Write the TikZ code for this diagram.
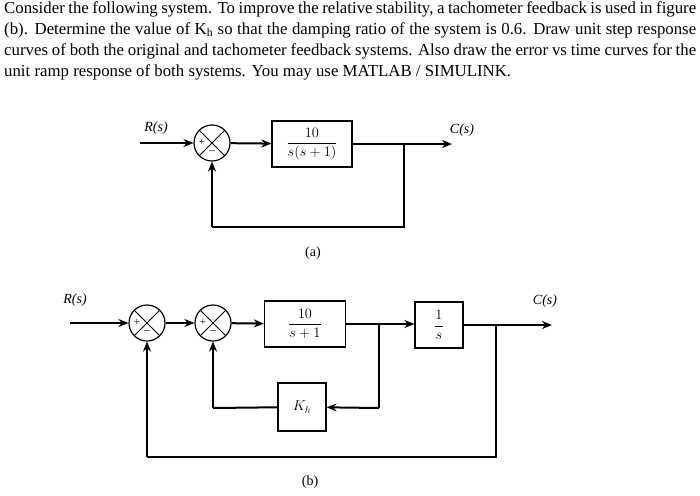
\documentclass[tikz,border=0pt]{standalone}
\usepackage{fontspec}
\setmainfont{Liberation Serif}
\usetikzlibrary{arrows.meta,calc}
\begin{document}
\begin{tikzpicture}[x=1pt,y=-1pt,
  sum/.style={circle,draw,line width=1.2pt,minimum size=36pt,inner sep=0pt},
  blk/.style={draw,line width=1.2pt,rectangle,inner sep=0pt},
  ln/.style={line width=2pt},
  arr/.style={line width=2pt,-{Stealth[length=10pt,width=8pt]}},
  lbl/.style={font=\itshape\fontsize{14}{14}\selectfont},
  ft/.style={font=\fontsize{14}{14}\selectfont}]
\useasboundingbox (0,0) rectangle (700,495);
\node[anchor=north west,text width=692pt,align=justify,inner sep=0pt,font=\fontsize{16.8}{21}\selectfont] (txt) at (4,1)
{Consider the following system. To improve the relative stability, a tachometer feedback is used in figure (b). Determine the value of K\textsubscript{h} so that the damping ratio of the system is 0.6. Draw unit step response curves of both the original and tachometer feedback systems. Also draw the error vs time curves for the unit ramp response of both systems. You may use MATLAB / SIMULINK.};
\newcommand{\sumsym}[1]{%
  \draw[line width=1pt] ($(#1)+(-12.7,-12.7)$) -- ($(#1)+(12.7,12.7)$);
  \draw[line width=1pt] ($(#1)+(-12.7,12.7)$) -- ($(#1)+(12.7,-12.7)$);
  \node[font=\fontsize{11}{11}\selectfont,inner sep=0pt] at ($(#1)+(-10,-1)$) {+};
  \node[font=\fontsize{11}{11}\selectfont,inner sep=0pt] at ($(#1)+(0,9)$) {--};}
% (a)
\node[sum] (s1) at (212,143) {};
\node[blk,minimum width=80pt,minimum height=46pt] (g1) at (312,144) {};
\node[ft] (g1t) at (312,144) {$\displaystyle\frac{10}{s(s+1)}$};
\coordinate (in1) at (140,143);
\coordinate (out1) at (452,144);
\coordinate (j1) at (404,144);
\coordinate (fb1) at (404,227);
\coordinate (fb1b) at (212,227);
\node[lbl] (R1) at (156,128) {R(s)};
\node[lbl] (C1) at (462,130) {C(s)};
\draw[arr] (in1) -- (s1);
\draw[arr] (s1) -- (g1);
\draw[arr] (g1) -- (out1);
\draw[ln] (j1) -- (fb1) -- (fb1b);
\draw[arr] (fb1b) -- (s1);
\node[ft] (la) at (313,253) {(a)};
% (b)
\node[sum] (s2) at (147,323) {};
\node[sum] (s3) at (213,323) {};
\node[blk,minimum width=81pt,minimum height=46pt] (g2) at (305,324) {};
\node[ft] (g2t) at (305,324) {$\displaystyle\frac{10}{s+1}$};
\node[blk,minimum width=48pt,minimum height=46pt] (g3) at (439,325) {};
\node[ft] (g3t) at (439,325) {$\displaystyle\frac{1}{s}$};
\node[blk,minimum width=48pt,minimum height=48pt,ft] (kh) at (302,407) {$K_h$};
\coordinate (in2) at (70,323);
\coordinate (j2) at (379,324);
\coordinate (k1) at (379,408);
\coordinate (k2) at (213,408);
\coordinate (j3) at (496,325);
\coordinate (out2) at (552,325);
\coordinate (o1) at (496,457);
\coordinate (o2) at (147,457);
\node[lbl] (R2) at (75,300) {R(s)};
\node[lbl] (C2) at (545,301) {C(s)};
\draw[arr] (in2) -- (s2);
\draw[arr] (s2) -- (s3);
\draw[arr] (s3) -- (g2);
\draw[arr] (g2.east) -- (g3.west |- g2.east);
\draw[arr] (g3) -- (out2);
\draw[ln] (j2) -- (k1);
\draw[arr] (k1) -- (kh);
\draw[ln] (kh) -- (k2);
\draw[arr] (k2) -- (s3);
\draw[ln] (j3) -- (o1) -- (o2);
\draw[arr] (o2) -- (s2);
\node[ft] (lb) at (310,482) {(b)};
\sumsym{s1}\sumsym{s2}\sumsym{s3}
\end{tikzpicture}
\end{document}
